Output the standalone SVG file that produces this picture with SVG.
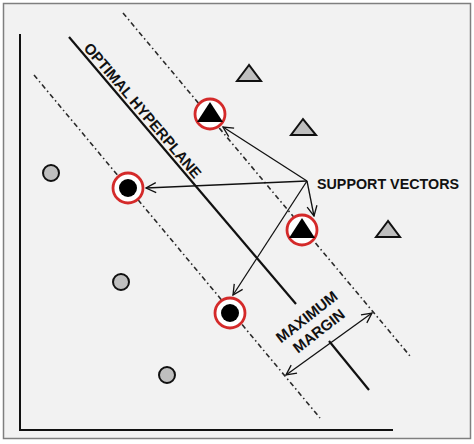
<svg xmlns="http://www.w3.org/2000/svg" width="474" height="444" viewBox="0 0 474 444">
<defs>
<style>
.lbl{font-family:"Liberation Sans",Arial,sans-serif;font-weight:bold;font-size:15px;fill:#111}
.axis{stroke:#111;stroke-width:2;fill:none}
.hyp{stroke:#111;stroke-width:2.2;fill:none}
.mar{stroke:#2a2a2a;stroke-width:1.6;fill:none;stroke-dasharray:5 3 1.5 3}
.arr{stroke:#111;stroke-width:1.3;fill:none}
.ring{stroke:#d42a2a;stroke-width:2.8;fill:#fff}
.gray{fill:#bfbfbf;stroke:#111;stroke-width:2}
.blk{fill:#000}
</style>
<marker id="ah" viewBox="0 0 12 12" refX="11" refY="6" markerWidth="12" markerHeight="12" markerUnits="userSpaceOnUse" orient="auto-start-reverse">
<path d="M1,1 L11,6 L1,11" fill="none" stroke="#111" stroke-width="1.3"/>
</marker>
</defs>
<rect x="0" y="0" width="474" height="444" fill="#fff"/>
<rect x="3.5" y="3.5" width="467" height="435" fill="#f2f2f2" stroke="#7f7f7f" stroke-width="1.5"/>
<g id="axes">
<polyline class="axis" points="20,34 20,430 393,430"/>
</g>
<g id="margins">
<line class="mar" x1="123" y1="13" x2="410" y2="356"/>
<line class="mar" x1="34" y1="75" x2="320" y2="418"/>
</g>
<g id="hyperplane">
<line class="hyp" x1="69" y1="37" x2="296" y2="304"/>
<line class="hyp" x1="329" y1="341" x2="369" y2="390"/>
<text class="lbl" transform="translate(83,48.5) rotate(49.6)" textLength="172" lengthAdjust="spacingAndGlyphs">OPTIMAL HYPERPLANE</text>
</g>
<g id="gray-points">
<circle class="gray" cx="51" cy="173" r="8"/>
<circle class="gray" cx="121" cy="282" r="8"/>
<circle class="gray" cx="167" cy="375" r="8"/>
<polygon class="gray" points="249,65 237,81 261,81"/>
<polygon class="gray" points="303,119 291,135 316,135"/>
<polygon class="gray" points="388,221 376,237 400,237"/>
</g>
<g id="sv-top">
<circle class="ring" cx="210" cy="114" r="15"/>
<polygon class="blk" points="210,102 197,122 223,122"/>
</g>
<g id="sv-left">
<circle class="ring" cx="128" cy="188" r="15"/>
<circle class="blk" cx="128" cy="188" r="9"/>
</g>
<g id="sv-right">
<circle class="ring" cx="302" cy="230" r="15"/>
<polygon class="blk" points="302,218 289,238 315,238"/>
</g>
<g id="sv-bottom">
<circle class="ring" cx="230" cy="313" r="15"/>
<circle class="blk" cx="230" cy="313" r="9"/>
</g>
<g id="connectors">
<line class="arr" x1="307" y1="181" x2="223" y2="127" marker-end="url(#ah)"/>
<line class="arr" x1="307" y1="181" x2="146" y2="188" marker-end="url(#ah)"/>
<line class="arr" x1="307" y1="181" x2="314" y2="216" marker-end="url(#ah)"/>
<line class="arr" x1="307" y1="181" x2="233" y2="295" marker-end="url(#ah)"/>
<line class="arr" x1="286" y1="375" x2="372" y2="313" marker-start="url(#ah)" marker-end="url(#ah)"/>
</g>
<g id="support-label">
<text class="lbl" x="317" y="189" textLength="142" lengthAdjust="spacingAndGlyphs">SUPPORT VECTORS</text>
</g>
<g id="margin-label">
<text class="lbl" text-anchor="middle" transform="translate(310,321) rotate(-38)">MAXIMUM</text>
<text class="lbl" text-anchor="middle" transform="translate(322,335) rotate(-38)">MARGIN</text>
</g>
</svg>
